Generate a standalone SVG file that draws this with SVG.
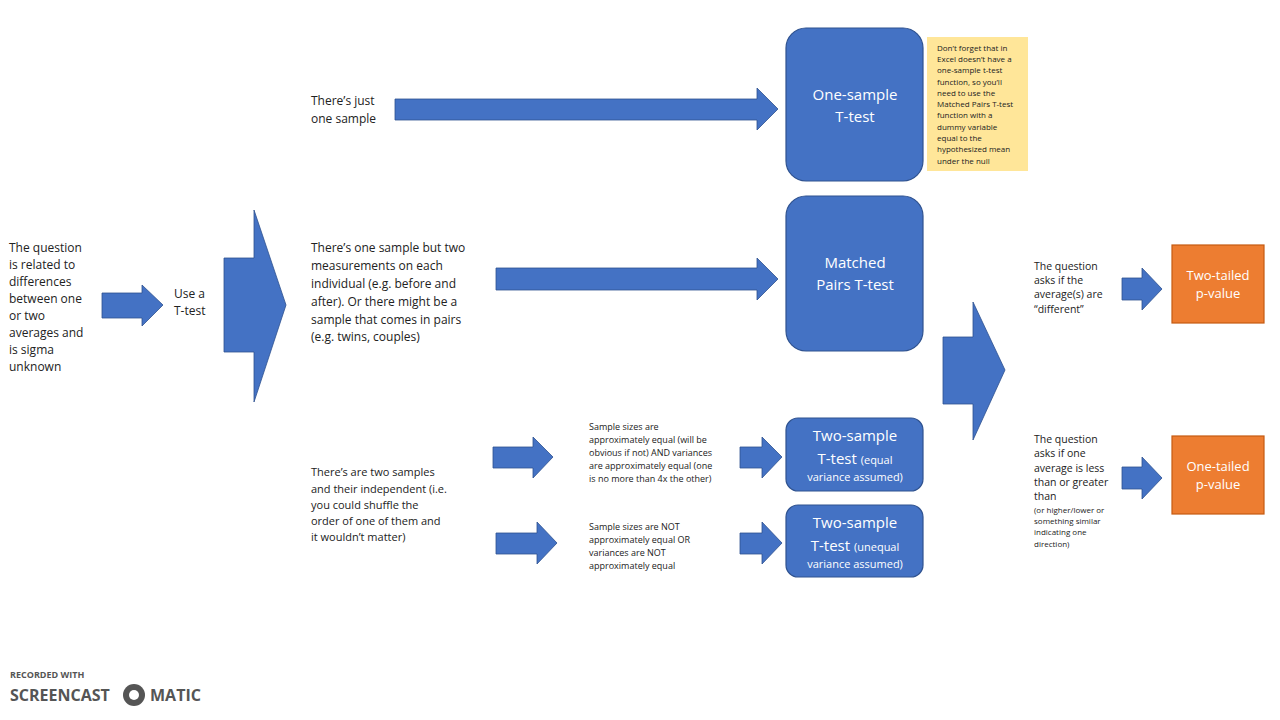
<svg xmlns="http://www.w3.org/2000/svg" width="1280" height="720" viewBox="0 0 1280 720">
<style>
text{font-family:"Open Sans","Liberation Sans",sans-serif;fill:#222}
.t{font-size:12px}
.s{font-size:9px}
.xs{font-size:8px}
.b{fill:#4472C4;stroke:#2F528F;stroke-width:1.2}
.o{fill:#ED7D31;stroke:#C55A11;stroke-width:1.2}
.w{fill:#fff;font-size:15px;text-anchor:middle}
.wo{fill:#fff;font-size:13px;text-anchor:middle}
.a{fill:#4472C4;stroke:#2F528F;stroke-width:0.8}
</style>
<rect width="1280" height="720" fill="#fff"/>
<g id="connectors">
<polygon class="a" points="395,99 757,99 757,88 778,109 757,130 757,120 395,120"/>
<polygon class="a" points="496,268 757,268 757,258 778,279 757,300 757,290 496,290"/>
<polygon class="a" points="102,293 142,293 142,285 163,305 142,326 142,318 102,318"/>
<polygon class="a" points="224,258 254,258 254,210 286,305 254,402 254,352 224,352"/>
<polygon class="a" points="493,447 533,447 533,437 553,457 533,478 533,468 493,468"/>
<polygon class="a" points="496,533 537,533 537,522 557,543 537,564 537,554 496,554"/>
<polygon class="a" points="740,447 762,447 762,437 782,457 762,478 762,468 740,468"/>
<polygon class="a" points="740,533 762,533 762,522 782,543 762,564 762,554 740,554"/>
<polygon class="a" points="943,337 973,337 973,302 1005,370 973,440 973,404 943,404"/>
<polygon class="a" points="1122,278 1142,278 1142,268 1162,289 1142,310 1142,300 1122,300"/>
<polygon class="a" points="1122,467 1142,467 1142,457 1162,478 1142,499 1142,489 1122,489"/>
</g>
<g id="start"><text class="t" x="9" y="252">The question</text><text class="t" x="9" y="269">is related to</text><text class="t" x="9" y="286">differences</text><text class="t" x="9" y="303">between one</text><text class="t" x="9" y="320">or two</text><text class="t" x="9" y="337">averages and</text><text class="t" x="9" y="354">is sigma</text><text class="t" x="9" y="371">unknown</text></g>
<g id="use-t"><text class="t" x="174" y="298">Use a</text><text class="t" x="174" y="315">T-test</text></g>
<g id="one-sample-cond"><text class="t" x="311" y="105">There’s just</text><text class="t" x="311" y="123">one sample</text></g>
<g id="paired-cond"><text class="t" x="311" y="252">There’s one sample but two</text><text class="t" x="311" y="270">measurements on each</text><text class="t" x="311" y="288">individual (e.g. before and</text><text class="t" x="311" y="306">after). Or there might be a</text><text class="t" x="311" y="324">sample that comes in pairs</text><text class="t" x="311" y="341">(e.g. twins, couples)</text></g>
<g id="two-cond"><text class="s" x="311" y="476" style="font-size:11px">There’s are two samples</text><text x="311" y="493" style="font-size:11px">and their independent (i.e.</text><text x="311" y="509" style="font-size:11px">you could shuffle the</text><text x="311" y="525" style="font-size:11px">order of one of them and</text><text x="311" y="541" style="font-size:11px">it wouldn’t matter)</text></g>
<g id="eq-cond"><text class="s" x="589" y="430">Sample sizes are</text><text class="s" x="589" y="443">approximately equal (will be</text><text class="s" x="589" y="456">obvious if not) AND variances</text><text class="s" x="589" y="469">are approximately equal (one</text><text class="s" x="589" y="482">is no more than 4x the other)</text></g>
<g id="neq-cond"><text class="s" x="589" y="530">Sample sizes are NOT</text><text class="s" x="589" y="543">approximately equal OR</text><text class="s" x="589" y="556">variances are NOT</text><text class="s" x="589" y="569">approximately equal</text></g>
<g id="one-sample"><rect class="b" x="786" y="28" width="137" height="153" rx="20"/><text class="w" x="855" y="100">One-sample</text><text class="w" x="855" y="122">T-test</text></g>
<g id="note"><rect x="927" y="37" width="101" height="134" fill="#FFE699"/>
<text class="xs" x="937" y="51">Don’t forget that in</text><text class="xs" x="937" y="62">Excel doesn’t have a</text><text class="xs" x="937" y="73">one-sample t-test</text><text class="xs" x="937" y="85">function, so you’ll</text><text class="xs" x="937" y="96">need to use the</text><text class="xs" x="937" y="107">Matched Pairs T-test</text><text class="xs" x="937" y="118">function with a</text><text class="xs" x="937" y="130">dummy variable</text><text class="xs" x="937" y="141">equal to the</text><text class="xs" x="937" y="152">hypothesized mean</text><text class="xs" x="937" y="164">under the null</text></g>
<g id="matched"><rect class="b" x="786" y="196" width="137" height="155" rx="20"/><text class="w" x="855" y="268">Matched</text><text class="w" x="855" y="290">Pairs T-test</text></g>
<g id="two-eq"><rect class="b" x="786" y="418" width="137" height="73" rx="12"/><text class="w" x="855" y="441">Two-sample</text><text class="w" x="855" y="464">T-test <tspan style="font-size:11px">(equal</tspan></text><text class="w" x="855" y="481" style="font-size:11px">variance assumed)</text></g>
<g id="two-neq"><rect class="b" x="786" y="505" width="137" height="72" rx="12"/><text class="w" x="855" y="528">Two-sample</text><text class="w" x="855" y="551">T-test <tspan style="font-size:11px">(unequal</tspan></text><text class="w" x="855" y="568" style="font-size:11px">variance assumed)</text></g>
<g id="diff-cond"><text class="s" style="font-size:10.5px" x="1034" y="270">The question</text><text style="font-size:10.5px" x="1034" y="284">asks if the</text><text style="font-size:10.5px" x="1034" y="298">average(s) are</text><text style="font-size:10.5px" x="1034" y="313">“different”</text></g>
<g id="dir-cond"><text style="font-size:10.5px" x="1034" y="443">The question</text><text style="font-size:10.5px" x="1034" y="457">asks if one</text><text style="font-size:10.5px" x="1034" y="472">average is less</text><text style="font-size:10.5px" x="1034" y="486">than or greater</text><text style="font-size:10.5px" x="1034" y="500">than</text><text class="xs" x="1034" y="513">(or higher/lower or</text><text class="xs" x="1034" y="524">something similar</text><text class="xs" x="1034" y="535">indicating one</text><text class="xs" x="1034" y="547">direction)</text></g>
<g id="two-tailed"><rect class="o" x="1172" y="245" width="92" height="78"/><text class="wo" x="1218" y="280">Two-tailed</text><text class="wo" x="1218" y="298">p-value</text></g>
<g id="one-tailed"><rect class="o" x="1172" y="436" width="92" height="78"/><text class="wo" x="1218" y="471">One-tailed</text><text class="wo" x="1218" y="489">p-value</text></g>
<g id="watermark"><text x="10" y="678" style="font-size:9px;font-weight:bold;fill:#555">RECORDED WITH</text><text x="10" y="701" style="font-size:16px;font-weight:bold;fill:#555">SCREENCAST</text><circle cx="134" cy="695" r="11" fill="#555"/><circle cx="134" cy="695" r="5" fill="#fff"/><text x="150" y="701" style="font-size:16px;font-weight:bold;fill:#555">MATIC</text></g>
</svg>
